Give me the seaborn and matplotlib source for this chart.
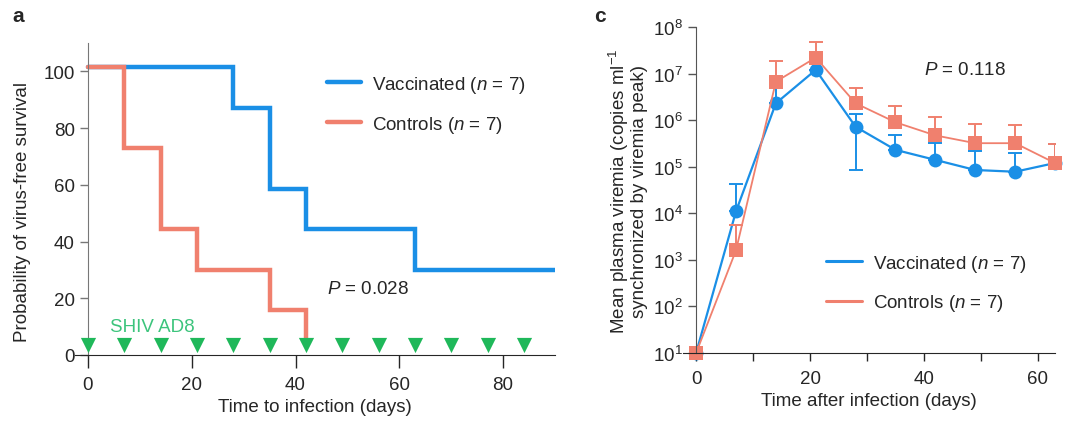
import matplotlib
matplotlib.use("Agg")
import matplotlib.pyplot as plt
import seaborn as sns
import numpy as np
import pandas as pd
from matplotlib.lines import Line2D
from matplotlib.ticker import LogLocator, NullLocator

# 颜色
BLUE = "#1A8FE6"
RED = "#F0806E"
GREEN = "#1FB85A"
GREEN_TXT = "#3CC47C"

# ---- panel a: survival steps ----
vacc_days = [0, 28, 35, 42, 63, 90]
vacc_surv = [101.5, 87.2, 58.6, 44.4, 30.1, 30.1]
ctrl_days = [0, 7, 14, 21, 35, 42]
ctrl_surv = [101.5, 72.9, 44.4, 30.1, 15.8, 3]
challenge_days = [0, 7, 14, 21, 28, 35, 42, 49, 56, 63, 70, 77, 84]

# ---- panel c: viremia ----
vir_days = [0, 7, 14, 21, 28, 35, 42, 49, 56, 63]
vacc_mean = [10, 1.1e4, 2.3e6, 1.2e7, 7.2e5, 2.3e5, 1.4e5, 8.5e4, 7.8e4, 1.2e5]
vacc_up = [10, 4.2e4, 5.0e6, 2.0e7, 1.35e6, 4.8e5, 3.2e5, 2.2e5, 2.0e5, 3.0e5]
vacc_lo = [10, 1.1e4, 2.3e6, 1.2e7, 8.5e4, 2.3e5, 1.4e5, 8.5e4, 7.8e4, 1.2e5]
ctrl_mean = [10, 1.6e3, 6.7e6, 2.2e7, 2.3e6, 9.0e5, 4.7e5, 3.2e5, 3.2e5, 1.2e5]
ctrl_up = [10, 5.6e3, 1.9e7, 4.7e7, 5.0e6, 2.0e6, 1.15e6, 8.3e5, 8.0e5, 3.1e5]

sns.set_style("ticks")
plt.rcParams['font.family'] = ['Liberation Sans', 'DejaVu Sans']
plt.rcParams['mathtext.fontset'] = 'custom'
plt.rcParams['mathtext.rm'] = 'Liberation Sans'
plt.rcParams['mathtext.it'] = 'Liberation Sans:italic'
FS = 13.5

fig = plt.figure(figsize=(10.8, 4.27), dpi=100)
ax1 = fig.add_axes([75/1080, 1-356/427, 480/1080, 312/427])
ax2 = fig.add_axes([683/1080, 1-354/427, 372/1080, 326/427])

# 面板 a
df_v = pd.DataFrame({"day": vacc_days, "surv": vacc_surv})
df_c = pd.DataFrame({"day": ctrl_days, "surv": ctrl_surv})
sns.lineplot(data=df_v, x="day", y="surv", ax=ax1, color=BLUE, lw=3.2,
             drawstyle="steps-post", solid_joinstyle="miter")
sns.lineplot(data=df_c, x="day", y="surv", ax=ax1, color=RED, lw=3.2,
             drawstyle="steps-post", solid_joinstyle="miter")
sns.scatterplot(x=challenge_days, y=[3.5]*len(challenge_days), ax=ax1,
                marker="v", s=120, color=GREEN, linewidth=0, zorder=5, clip_on=False)
ax1.text(4.2, 8.5, "SHIV AD8", color=GREEN_TXT, fontsize=FS)
ax1.text(46, 22, "$\\it{P}$ = 0.028", fontsize=FS)

ax1.set_xlim(-2.5, 90)
ax1.set_ylim(0, 110)
ax1.set_xticks([0, 20, 40, 60, 80])
ax1.set_yticks([0, 20, 40, 60, 80, 100])
ax1.spines['left'].set_position(('data', 0))
ax1.spines['left'].set_color('#777777')
ax1.spines['top'].set_visible(False)
ax1.spines['right'].set_visible(False)
ax1.tick_params(axis='x', length=9, width=1, labelsize=FS, pad=6)
ax1.tick_params(axis='y', length=6, width=1, labelsize=FS, color='#777777')
ax1.set_xlabel("Time to infection (days)", fontsize=FS, labelpad=4)
ax1.set_ylabel("Probability of virus-free survival", fontsize=FS)
ax1.yaxis.set_label_coords(-0.092, 0.46)
h1 = [Line2D([], [], color=BLUE, lw=3.2), Line2D([], [], color=RED, lw=3.2)]
ax1.legend(h1, ["Vaccinated ($\\it{n}$ = 7)", "Controls ($\\it{n}$ = 7)"],
           loc='upper left', bbox_to_anchor=(0.49, 0.955), frameon=False,
           fontsize=FS, handlelength=1.8, handletextpad=0.6, labelspacing=1.0)

# 面板 c
for mean, up, lo, col, mk, ms, lw in [
        (vacc_mean, vacc_up, vacc_lo, BLUE, "o", 10, 1.6),
        (ctrl_mean, ctrl_up, ctrl_mean, RED, "s", 9.5, 1.3)]:
    m = np.array(mean)
    yerr = [m - np.array(lo), np.array(up) - m]
    ax2.errorbar(vir_days, m, yerr=yerr, fmt='none', ecolor=col, elinewidth=1.4,
                 capsize=5, capthick=1.4)
    sns.lineplot(x=vir_days, y=mean, ax=ax2, color=col, lw=lw, marker=mk,
                 markersize=ms, markeredgewidth=0, clip_on=False)

ax2.set_yscale('log')
ax2.set_xlim(-2.3, 63)
ax2.set_ylim(10, 1e8)
ax2.yaxis.set_major_locator(LogLocator(base=10, numticks=10))
ax2.yaxis.set_minor_locator(NullLocator())
ax2.set_xticks([0, 20, 40, 60])
ax2.set_xticks([10, 30, 50], minor=True)
ax2.spines['left'].set_position(('data', 0))
ax2.spines['left'].set_color('#555555')
ax2.spines['top'].set_visible(False)
ax2.spines['right'].set_visible(False)
ax2.tick_params(axis='x', which='both', length=6, width=1, labelsize=FS, pad=6)
ax2.tick_params(axis='y', length=6, width=1, labelsize=FS, color='#555555')
ax2.set_xlabel("Time after infection (days)", fontsize=FS, labelpad=4)
ax2.set_ylabel("Mean plasma viremia (copies ml$^{-1}$\nsynchronized by viremia peak)",
               fontsize=FS, linespacing=1.0)
ax2.yaxis.set_label_coords(-0.095, 0.5)
ax2.text(40, 1.2e7, "$\\it{P}$ = 0.118", fontsize=FS, va='center')
h2 = [Line2D([], [], color=BLUE, lw=2.2), Line2D([], [], color=RED, lw=2.2)]
ax2.legend(h2, ["Vaccinated ($\\it{n}$ = 7)", "Controls ($\\it{n}$ = 7)"],
           loc='upper left', bbox_to_anchor=(0.34, 0.36), frameon=False,
           fontsize=FS, handlelength=1.9, handletextpad=0.6, labelspacing=1.0)

fig.text(12/1080, 1-16/427, "a", fontsize=15, fontweight='bold', va='center')
fig.text(594/1080, 1-16/427, "c", fontsize=15, fontweight='bold', va='center')

fig.savefig("out.png", dpi=100)
